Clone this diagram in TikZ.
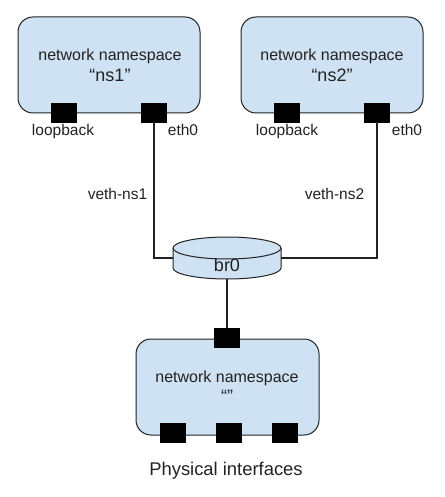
\documentclass[tikz,border=0pt]{standalone}
\usepackage{fontspec}
\setmainfont{Liberation Sans}
\definecolor{nsblue}{HTML}{CFE2F3}
\definecolor{ink}{HTML}{222222}
\begin{document}
\begin{tikzpicture}[x=1pt,y=-1pt,
  nsbox/.style={draw=ink, fill=nsblue, rounded corners=15pt, line width=1pt,
    minimum width=182pt, minimum height=96pt, inner sep=0pt},
  port/.style={fill=black, draw=black, minimum width=25pt, minimum height=19pt, inner sep=0pt},
  title/.style={anchor=base, inner sep=0pt, text=ink, font=\fontsize{16}{19}\selectfont},
  quoted/.style={anchor=base, inner sep=0pt, text=ink, font=\fontsize{18}{21}\selectfont},
  lbl/.style={anchor=base, inner sep=0pt, text=ink, font=\fontsize{15.5}{18}\selectfont},
  wire/.style={draw=ink, line width=1.4pt},
  cyl/.style={draw=ink, fill=nsblue, line width=1pt}]
\useasboundingbox[fill=white] (0,0) rectangle (444,497);

% namespace boxes
\node[nsbox] (ns1) at (109,65) {};
\node[nsbox] (ns2) at (332,65) {};
\node[nsbox, minimum width=183pt] (ns0) at (227.5,387) {};

\node[title] (t1) at (110,61) {network namespace};
\node[quoted] (q1) at (110,82) {“ns1”};
\node[title] (t2) at (332,61) {network namespace};
\node[quoted] (q2) at (332,82) {“ns2”};
\node[title] (t0) at (227,382) {network namespace};
\node[quoted] (q0) at (227,402) {“”};

% wires
\node[minimum width=108pt, minimum height=42pt, inner sep=0pt] (br0) at (227,258) {};
\node[port] (lo1) at (64,112.5) {};
\node[port] (e1) at (154,112.5) {};
\node[port] (lo2) at (287,112.5) {};
\node[port] (e2) at (377,112.5) {};
\node[port] (p0) at (227,338) {};
\node[port] (pa) at (173,433) {};
\node[port] (pb) at (229,433) {};
\node[port] (pc) at (285,433) {};

\draw[wire] (e1.south) |- (br0.west);
\draw[wire] (e2.south) |- (br0.east);
\draw[wire] (br0.south) -- (p0.north);

% bridge cylinder
\draw[cyl] (173,248) -- (173,268) arc[start angle=180, end angle=0, x radius=54, y radius=11] -- (281,248);
\draw[cyl] (227,248) ellipse[x radius=54, y radius=11];
\node[anchor=base, inner sep=0pt, text=ink, font=\fontsize{18}{21}\selectfont] (br0t) at (227,271) {br0};

% redraw ports on top
\foreach \p in {lo1,e1,lo2,e2,p0,pa,pb,pc} \fill[black] (\p.south west) rectangle (\p.north east);

% labels
\node[lbl] (llo1) at (63,136) {loopback};
\node[lbl] (le1) at (183,136) {eth0};
\node[lbl] (llo2) at (287,136) {loopback};
\node[lbl] (le2) at (407,136) {eth0};
\node[lbl] (v1) at (117.5,199) {veth-ns1};
\node[lbl] (v2) at (334.5,199) {veth-ns2};
\node[anchor=base, inner sep=0pt, text=ink, font=\fontsize{18.4}{22}\selectfont] (phys) at (226,475) {Physical interfaces};
\end{tikzpicture}
\end{document}
